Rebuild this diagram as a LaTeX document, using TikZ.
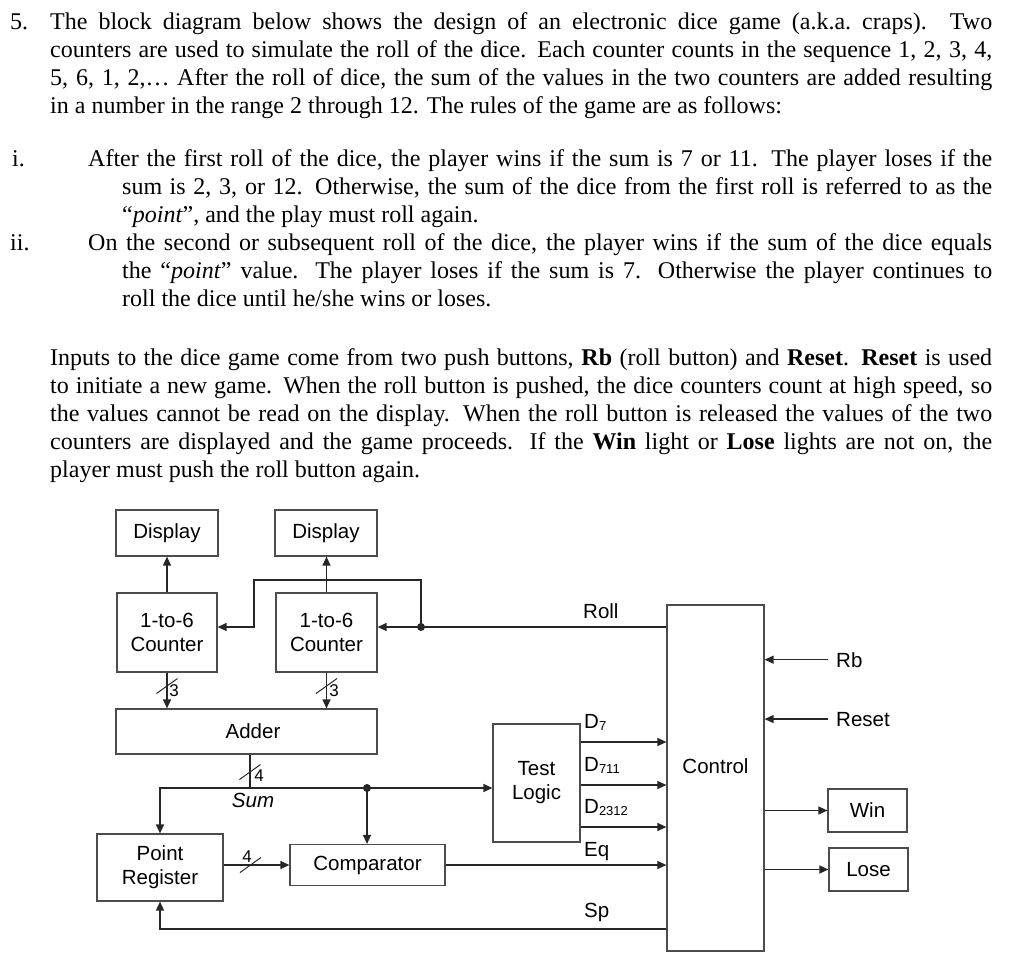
\documentclass[tikz,border=0pt]{standalone}
\usepackage{fontspec}
\setmainfont{Liberation Serif}
\setsansfont{Liberation Sans}
\usetikzlibrary{arrows.meta, positioning, calc}

\newcommand{\sigsub}[1]{\raisebox{-2pt}{\fontsize{13}{13}\selectfont #1}}

\begin{document}
\begin{tikzpicture}[x=1pt, y=-1pt,
  para/.style={anchor=base west, inner sep=0, align=justify, font=\fontsize{24}{28}\selectfont},
  dfont/.style={font=\sffamily\fontsize{20.5}{24}\selectfont},
  blk/.style={draw=black!70, line width=1.2pt, inner sep=0, align=center, dfont},
  sig/.style={anchor=base west, inner sep=0, dfont},
  width/.style={inner sep=0, font=\sffamily\fontsize{17}{17}\selectfont},
  wire/.style={draw=black!85, line width=1.3pt},
  arr/.style={wire, -{Triangle[length=9pt,width=8pt]}},
  busmark/.style={draw=black!85, line width=1pt}]

\useasboundingbox (0,0) rectangle (1024,971);

% problem text
\node[para, text width=942pt] (intro) at (50,30) {\noindent\llap{\makebox[40pt][l]{5.}}The block diagram below shows the design of an electronic dice game (a.k.a.\ craps). Two\linebreak
counters are used to simulate the roll of the dice. Each counter counts in the sequence 1, 2, 3, 4,\linebreak
5, 6, 1, 2,… After the roll of dice, the sum of the values in the two counters are added resulting\linebreak
in a number in the range 2 through 12. The rules of the game are as follows:};

\node[para, text width=904pt] (rulei) at (88,166) {\noindent\llap{\makebox[76pt][l]{i.}}\hangindent=34pt\hangafter=1 After the first roll of the dice, the player wins if the sum is 7 or 11. The player loses if the\linebreak
sum is 2, 3, or 12. Otherwise, the sum of the dice from the first roll is referred to as the\linebreak
“\textit{point}”, and the play must roll again.\par};
\node[para, text width=904pt] (ruleii) at (88,250) {\noindent\llap{\makebox[78pt][l]{ii.}}\hangindent=34pt\hangafter=1 On the second or subsequent roll of the dice, the player wins if the sum of the dice equals\linebreak
the “\textit{point}” value. The player loses if the sum is 7. Otherwise the player continues to\linebreak
roll the dice until he/she wins or loses.\par};

\node[para, text width=942pt] (inputs) at (50,365) {\noindent Inputs to the dice game come from two push buttons, \textbf{Rb} (roll button) and \textbf{Reset}. \textbf{Reset} is used\linebreak
to initiate a new game. When the roll button is pushed, the dice counters count at high speed, so\linebreak
the values cannot be read on the display. When the roll button is released the values of the two\linebreak
counters are displayed and the game proceeds. If the \textbf{Win} light or \textbf{Lose} lights are not on, the\linebreak
player must push the roll button again.};

% blocks
\node[blk, minimum width=102pt, minimum height=46pt] (disp1) at (167,533) {Display};
\node[blk, minimum width=102pt, minimum height=46pt] (disp2) at (326,533) {Display};
\node[blk, minimum width=100pt, minimum height=79pt] (cnt1) at (167,632.5) {1-to-6\\Counter};
\node[blk, minimum width=101pt, minimum height=79pt] (cnt2) at (326.5,632.5) {1-to-6\\Counter};
\node[blk, minimum width=261pt, minimum height=45pt, label={[xshift=6.5pt, dfont]center:Adder}] (adder) at (246.5,731.5) {};
\node[blk, minimum width=87pt, minimum height=118pt] (test) at (536.5,783) {Test\\Logic};
\node[blk, minimum width=126pt, minimum height=67pt] (preg) at (160,867.5) {Point\\Register};
\node[blk, minimum width=155pt, minimum height=41pt] (cmp) at (367.5,865) {Comparator};
\node[blk, minimum width=97pt, minimum height=346pt, label={[yshift=12pt, dfont]center:Control}] (ctrl) at (715.5,778) {};
\node[blk, minimum width=79pt, minimum height=43pt] (win) at (867.5,810.5) {Win};
\node[blk, minimum width=79pt, minimum height=43pt] (lose) at (868.5,869.5) {Lose};

% counters and displays
\draw[arr] (cnt1) -- (disp1);
\draw[arr] (cnt2.north) -- (cnt2.north |- disp2.south);

% roll signal
\coordinate (rollsplit) at (421,627);
\coordinate (rollturn) at (254,580);
\draw[arr] (rollsplit -| ctrl.west) -- (rollsplit -| cnt2.east);
\draw[arr] (rollsplit) |- (rollturn) |- (rollsplit -| cnt1.east);
\fill[black!85] (rollsplit) circle (4pt);
\node[sig] (roll) at (583,618) {Roll};

% counter outputs
\draw[arr] (cnt1.south) -- (cnt1.south |- adder.north);
\draw[arr] (cnt2.south) -- (cnt2.south |- adder.north);
\draw[busmark] (cnt1.south |- 0,686) ++(-10.5,7.5) -- ++(21,-15);
\draw[busmark] (cnt2.south |- 0,686) ++(-10.5,7.5) -- ++(21,-15);
\node[width] (w1) at (174,691) {3};
\node[width] (w2) at (334,691) {3};

% sum bus
\coordinate (sumtap) at (250,788);
\coordinate (sumsplit) at (367,788);
\draw[wire] (sumtap |- adder.south) -- (sumtap);
\draw[arr] (sumtap) -| (preg.north);
\draw[arr] (sumtap) -- (sumtap -| test.west);
\draw[arr] (sumsplit) -- (sumsplit |- cmp.north);
\fill[black!85] (sumsplit) circle (4pt);
\draw[busmark] (sumtap |- 0,772) ++(-10.5,7.5) -- ++(21,-15);
\node[width] (w3) at (259,776) {4};
\node[sig, anchor=base, font=\sffamily\itshape\fontsize{20.5}{24}\selectfont] (sum) at (253,807) {Sum};

% point register to comparator
\draw[arr] (preg.east |- cmp.west) -- (cmp.west);
\draw[busmark] (250.5,865) ++(-10.5,7.5) -- ++(21,-15);
\node[width] (w4) at (247,857) {4};

% test logic outputs
\foreach \yy in {742,785,827}
  \draw[arr] (test.east |- 0,\yy) -- (ctrl.west |- 0,\yy);
\node[sig] (dseven) at (584,728) {D\sigsub{7}};
\node[sig] (delev) at (584,771) {D\sigsub{711}};
\node[sig] (dcraps) at (584,813) {D\sigsub{2312}};

% comparator and point load
\draw[arr] (cmp.east) -- (cmp.east -| ctrl.west);
\node[sig] (eq) at (584,856) {Eq};
\coordinate (spline) at (600,929);
\draw[arr] (spline -| ctrl.west) -| (preg.south);
\node[sig] (sp) at (584,917) {Sp};

% control inputs and outputs
\node[sig] (rb) at (836,667) {Rb};
\node[sig] (reset) at (836,726) {Reset};
\draw[arr] ([xshift=-8pt]rb.west) -- (rb.west -| ctrl.east);
\draw[arr] ([xshift=-8pt]reset.west) -- (reset.west -| ctrl.east);
\draw[arr] (ctrl.east |- win.west) -- (win.west);
\draw[arr] (ctrl.east |- lose.west) -- (lose.west);
\end{tikzpicture}
\end{document}
